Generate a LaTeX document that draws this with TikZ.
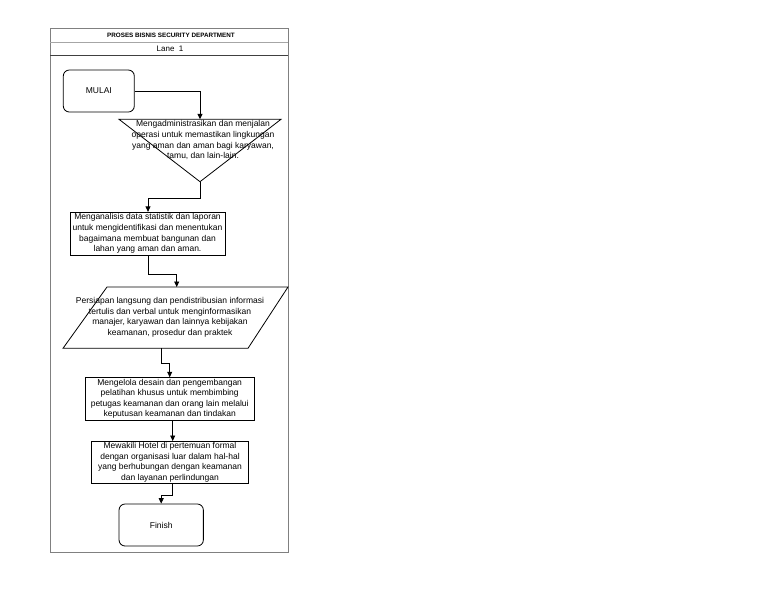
\documentclass[tikz,border=0pt]{standalone}
\usepackage{fontspec}
\setmainfont{Liberation Sans}
\usetikzlibrary{arrows.meta}
\begin{document}
\begin{tikzpicture}[x=1pt,y=-1pt,
  shapeline/.style={draw=black, line width=0.8pt},
  stepbox/.style={shapeline, rectangle, inner sep=0pt, align=center,
    font=\fontsize{8.5}{10.6}\selectfont},
  termbox/.style={shapeline, rectangle, rounded corners=6pt, inner sep=0pt,
    font=\fontsize{8.5}{10.6}\selectfont},
  bodytext/.style={inner sep=0pt, align=center, font=\fontsize{8.5}{10.6}\selectfont},
  conn/.style={draw=black, line width=0.8pt, -{Triangle[width=5pt,length=5.5pt]}},
  framel/.style={draw=black!50, line width=0.8pt}]
\useasboundingbox (0,0) rectangle (768,595);
% swimlane frame
\draw[framel] (50,28) rectangle (288.3,552.3);
\draw[draw=black!35, line width=0.6pt] (50,42) -- (288.3,42);
\draw[draw=black!75, line width=0.9pt] (50,55.3) -- (288.3,55.3);
\node[inner sep=0pt, font=\fontsize{6.3}{7}\selectfont\bfseries] (title) at (171,35.3) {PROSES BISNIS SECURITY DEPARTMENT};
\node[inner sep=0pt, font=\fontsize{8}{9}\selectfont] (lane) at (170,48.7) {Lane\ \ 1};
% start
\node[termbox, minimum width=71pt, minimum height=42pt] (mulai) at (98.8,91) {MULAI};
% triangle (merge)
\coordinate (t1) at (119,119.3);
\coordinate (t2) at (281,119.3);
\coordinate (tapex) at (200,181.7);
\coordinate (ttop) at (200,119.3);
\draw[shapeline] (t1) -- (t2) -- (tapex) -- cycle;
\node[bodytext] (tritext) at (203,140.3) {Mengadministrasikan dan menjalan\\operasi untuk memastikan lingkungan\\yang aman dan aman bagi karyawan,\\tamu, dan lain-lain.};
% rectangle 1
\node[stepbox, minimum width=155pt, minimum height=42.7pt] (analisis) at (147.5,233.6) {Menganalisis data statistik dan laporan\\untuk mengidentifikasi dan menentukan\\bagaimana membuat bangunan dan\\lahan yang aman dan aman.};
% parallelogram
\coordinate (p1) at (107,287);
\coordinate (p2) at (288,287);
\coordinate (p3) at (248,348.3);
\coordinate (p4) at (63,348.3);
\coordinate (ptop) at (176.7,287);
\coordinate (pbot) at (161.7,348.3);
\draw[shapeline] (p1) -- (p2) -- (p3) -- (p4) -- cycle;
\node[bodytext] (paratext) at (170,317.3) {Persiapan langsung dan pendistribusian informasi\\tertulis dan verbal untuk menginformasikan\\manajer, karyawan dan lainnya kebijakan\\keamanan, prosedur dan praktek};
% rectangle 2 and 3
\node[stepbox, minimum width=169.3pt, minimum height=42.3pt] (kelola) at (169.7,398.8) {Mengelola desain dan pengembangan\\pelatihan khusus untuk membimbing\\petugas keamanan dan orang lain melalui\\keputusan keamanan dan tindakan};
\node[stepbox, minimum width=156.6pt, minimum height=42.3pt] (wakili) at (170,462.2) {Mewakili Hotel di pertemuan formal\\dengan organisasi luar dalam hal-hal\\yang berhubungan dengan keamanan\\dan layanan perlindungan};
% finish
\node[termbox, minimum width=84.3pt, minimum height=42pt] (finish) at (161.2,525) {Finish};
% connectors
\coordinate (k1) at (172.7,420);
\coordinate (k2) at (172.7,441);
\coordinate (w1) at (172.7,483.3);
\coordinate (w2) at (172.7,495);
\coordinate (a1) at (148,255);
\draw[conn] (mulai.east) -| (ttop);
\draw[conn] (tapex) -- (200,198) -| (analisis.north -| 148,0);
\draw[conn] (a1) -- (148,274) -| (ptop);
\draw[conn] (pbot) -- (161.7,363) -| (kelola.north);
\draw[conn] (k1) -- (k2);
\draw[conn] (w1) -- (w2) -| (finish.north);
\end{tikzpicture}
\end{document}
